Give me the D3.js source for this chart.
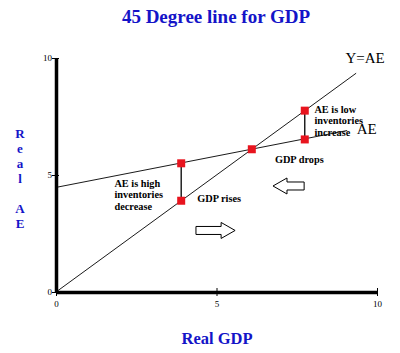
<!DOCTYPE html>
<html>
<head>
<meta charset="utf-8">
<script src="https://cdn.jsdelivr.net/npm/d3@7"></script>
<style>
  body { margin: 0; background: #fff; }
  text { font-family: "Liberation Serif", "Times New Roman", serif; }
</style>
</head>
<body>
<div id="chart"></div>
<script>
// data, in chart units
var ticks = [0, 5, 10];
var line45 = [[0, 0], [9.35, 9.35]];
var lineAE = [[0, 4.47], [9.07, 6.9]];
var squares = [[3.9, 5.5], [3.9, 3.9], [6.1, 6.1], [7.75, 7.75], [7.75, 6.52]];
var gaps = [[3.9, 5.5, 3.9], [7.75, 7.75, 6.52]];
var arrows = [{from: 4.36, to: 5.58, y: 2.63}, {from: 7.73, to: 6.76, y: 4.53}];
var notes = [
  {x: 1.82, y: 4.49, lines: ["AE is high", "inventories", "decrease"]},
  {x: 4.4, y: 3.85, lines: ["GDP rises"]},
  {x: 6.82, y: 5.5, lines: ["GDP drops"]},
  {x: 8.05, y: 7.67, lines: ["AE is low", "inventories", "increase"]}
];
var curveLabels = [{x: 9.63, y: 9.8, t: "Y=AE"}, {x: 9.68, y: 6.75, t: "AE"}];
var yLetters = ["R", "e", "a", "l", "", "A", "E"];

var width = 400, height = 353;
var blue = "#1414c8";

var svg = d3.select("#chart").append("svg")
  .attr("width", width)
  .attr("height", height);

var x = d3.scaleLinear().domain([0, 10]).range([56, 377]);
var y = d3.scaleLinear().domain([0, 10]).range([292, 58]);

var line = d3.line()
  .x(function(d) { return x(d[0]); })
  .y(function(d) { return y(d[1]); });

// title
svg.append("text")
  .attr("x", 216).attr("y", 23)
  .attr("text-anchor", "middle")
  .attr("font-size", 19).attr("font-weight", "bold")
  .attr("fill", blue)
  .text("45 Degree line for GDP");

// curves
svg.append("path").datum(line45).attr("d", line)
  .attr("fill", "none").attr("stroke", "#000").attr("stroke-width", 0.9);
svg.append("path").datum(lineAE).attr("d", line)
  .attr("fill", "none").attr("stroke", "#000").attr("stroke-width", 0.9);

// axes
var xAxis = d3.axisBottom(x).tickValues(ticks).tickSize(4).tickSizeOuter(0);
var yAxis = d3.axisLeft(y).tickValues(ticks).tickSize(4).tickSizeOuter(0);

function styleAxis(g) {
  g.select(".domain").attr("stroke-width", 3.5);
  g.selectAll(".tick line").attr("stroke-width", 1);
  g.selectAll(".tick text").attr("font-family", "Liberation Serif").attr("font-size", 9);
}

svg.append("g")
  .attr("transform", "translate(0," + y(0) + ")")
  .call(xAxis)
  .call(styleAxis)
  .call(function(g) {
    g.selectAll(".tick line").attr("y1", -4);
    g.selectAll(".tick text").attr("dy", "0.9em");
  });

svg.append("g")
  .attr("transform", "translate(" + x(0) + ",0)")
  .call(yAxis)
  .call(styleAxis)
  .call(function(g) {
    g.selectAll(".tick line").attr("x1", 3);
    g.selectAll(".tick text").attr("x", -4);
  });

// vertical gaps
svg.selectAll(".gap").data(gaps).enter().append("line")
  .attr("class", "gap")
  .attr("x1", function(d) { return x(d[0]); })
  .attr("x2", function(d) { return x(d[0]); })
  .attr("y1", function(d) { return y(d[1]); })
  .attr("y2", function(d) { return y(d[2]); })
  .attr("stroke", "#000").attr("stroke-width", 1.3);

// squares
svg.selectAll(".sq").data(squares).enter().append("rect")
  .attr("class", "sq")
  .attr("x", function(d) { return x(d[0]) - 4; })
  .attr("y", function(d) { return y(d[1]) - 4; })
  .attr("width", 8).attr("height", 8)
  .attr("fill", "#e8141e");

// arrows
svg.selectAll(".arrow").data(arrows).enter().append("path")
  .attr("class", "arrow")
  .attr("d", function(d) {
    var x0 = x(d.from), x1 = x(d.to), cy = y(d.y);
    var dir = x1 > x0 ? 1 : -1;
    var len = Math.abs(x1 - x0);
    var head = Math.min(14, len * 0.45);
    var xh = x1 - dir * head;
    return "M" + x0 + "," + (cy - 4) +
      "L" + xh + "," + (cy - 4) +
      "L" + xh + "," + (cy - 8) +
      "L" + x1 + "," + cy +
      "L" + xh + "," + (cy + 8) +
      "L" + xh + "," + (cy + 4) +
      "L" + x0 + "," + (cy + 4) + "Z";
  })
  .attr("fill", "#fff").attr("stroke", "#000").attr("stroke-width", 1);

// annotations
notes.forEach(function(n) {
  var t = svg.append("text")
    .attr("x", x(n.x)).attr("y", y(n.y))
    .attr("font-size", 10.3).attr("font-weight", "bold");
  n.lines.forEach(function(s, i) {
    t.append("tspan").attr("x", x(n.x)).attr("dy", i ? 11.5 : 0).text(s);
  });
});

svg.selectAll(".clabel").data(curveLabels).enter().append("text")
  .attr("class", "clabel")
  .attr("x", function(d) { return x(d.x); })
  .attr("y", function(d) { return y(d.y); })
  .attr("text-anchor", "middle")
  .attr("font-size", 15)
  .text(function(d) { return d.t; });

// axis titles
svg.append("text")
  .attr("x", 217).attr("y", 344)
  .attr("text-anchor", "middle")
  .attr("font-size", 16.5).attr("font-weight", "bold")
  .attr("fill", blue)
  .text("Real GDP");

// stacked y title, one letter per row
svg.selectAll(".ylet").data(yLetters).enter().append("text")
  .attr("class", "ylet")
  .attr("x", 20)
  .attr("y", function(d, i) { return 138 + i * 15; })
  .attr("text-anchor", "middle")
  .attr("font-size", 13).attr("font-weight", "bold")
  .attr("fill", blue)
  .text(function(d) { return d; });
</script>
</body>
</html>
